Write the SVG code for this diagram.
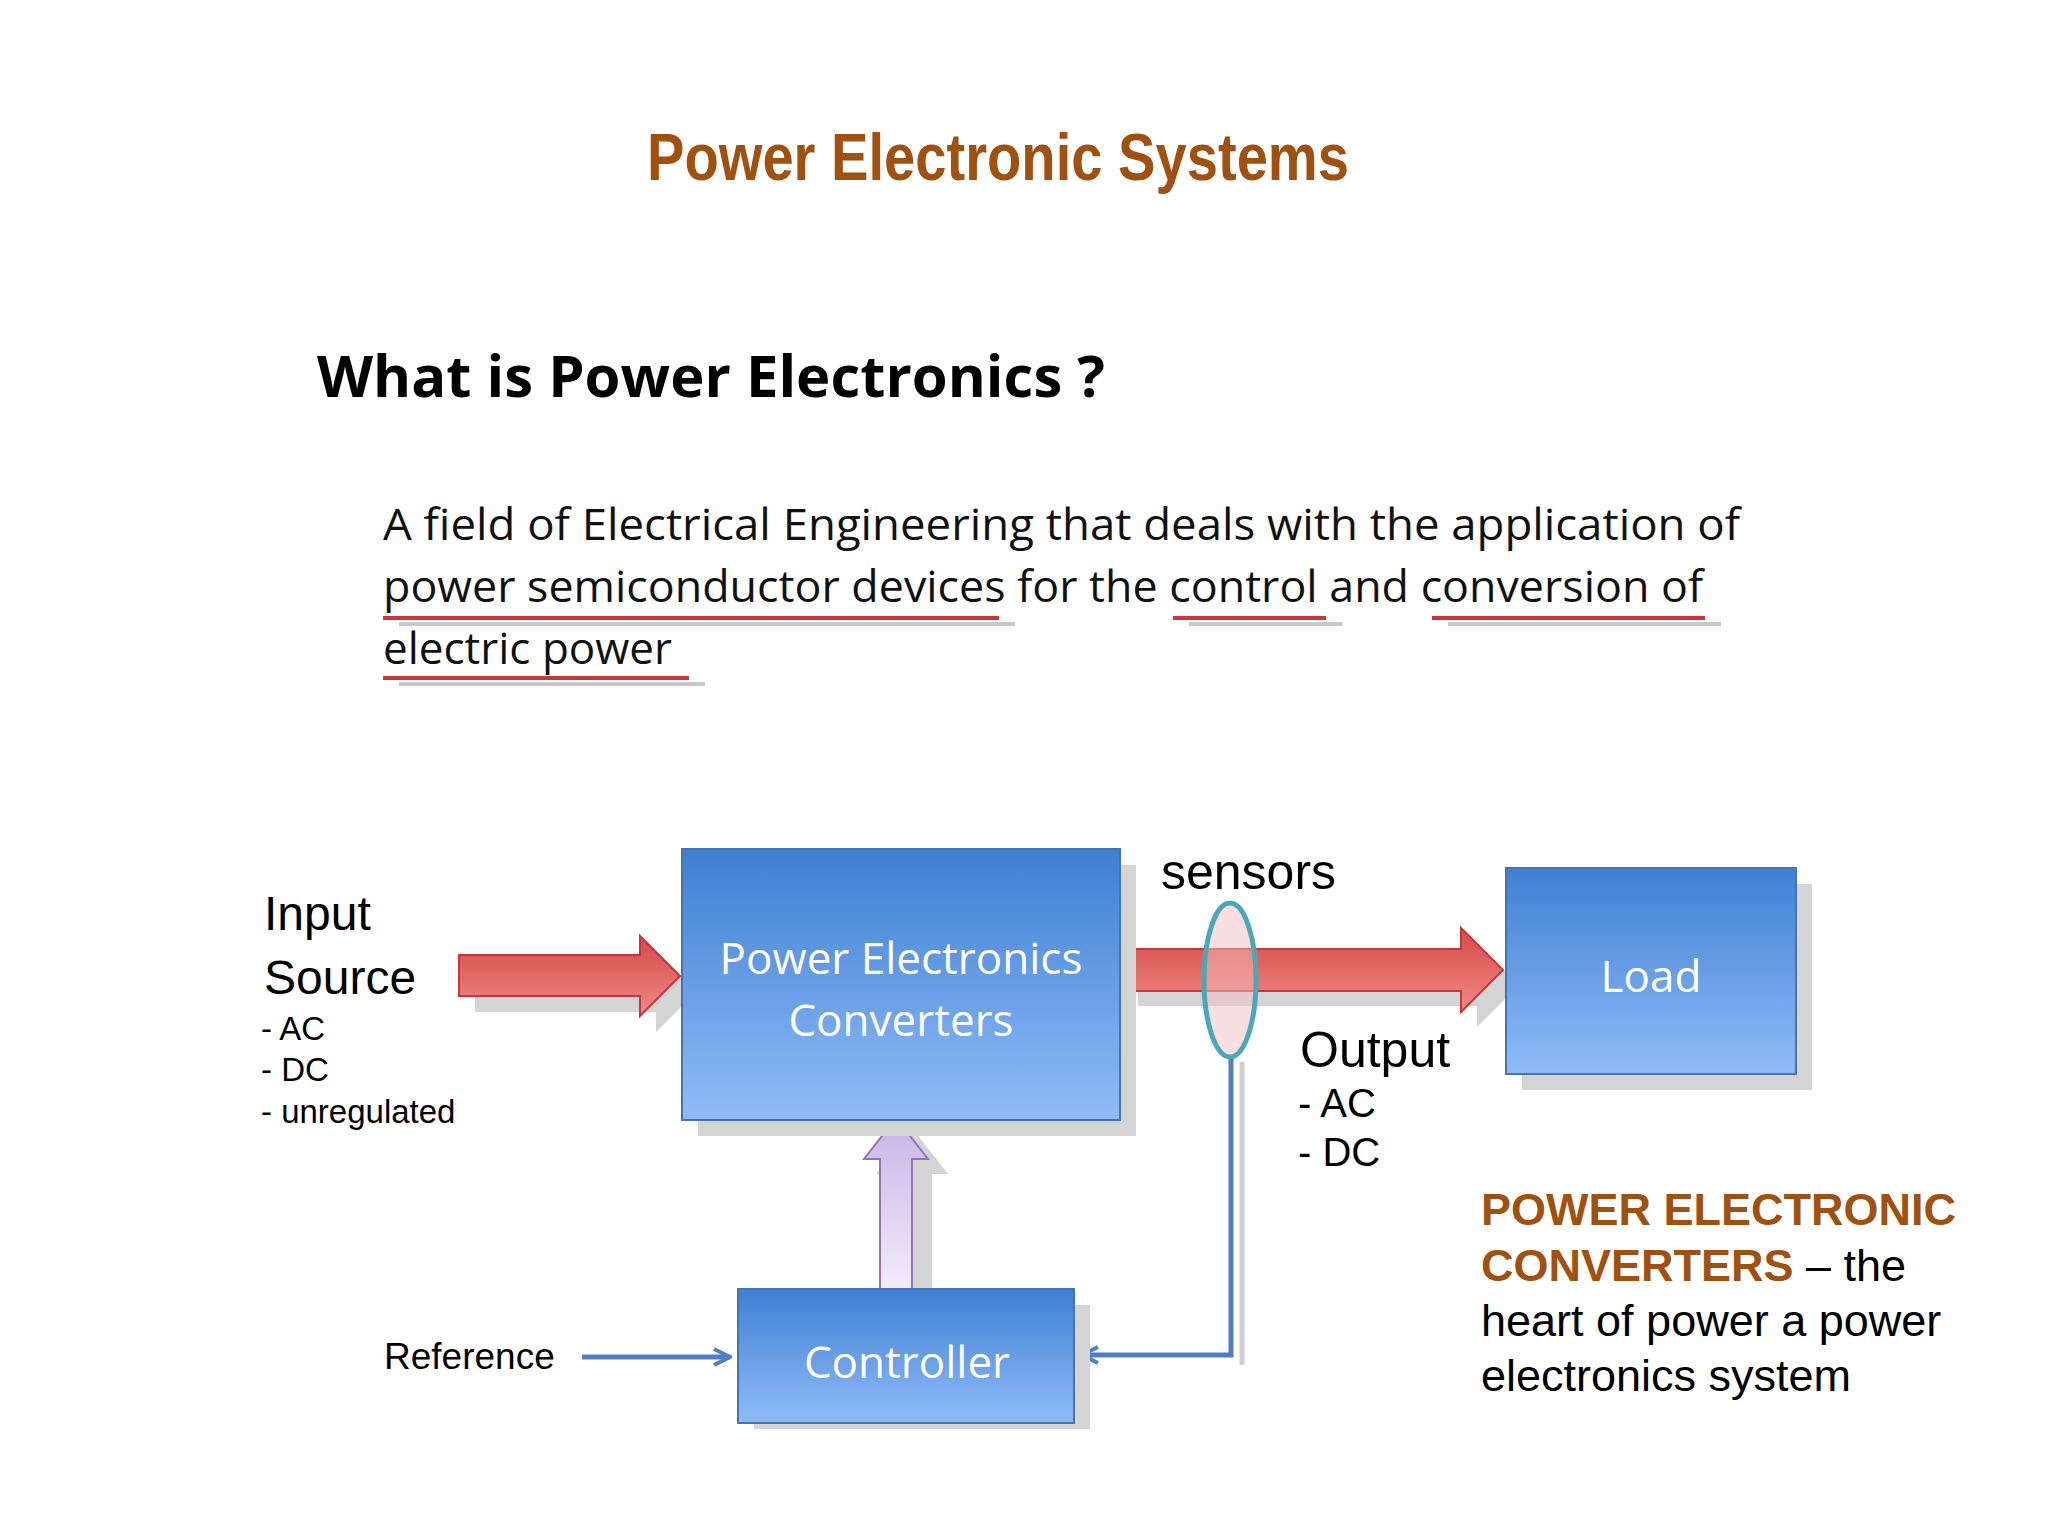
<svg xmlns="http://www.w3.org/2000/svg" width="2048" height="1536" viewBox="0 0 2048 1536">
<defs>
<linearGradient id="blue" x1="0" y1="0" x2="0" y2="1"><stop offset="0" stop-color="#3f80d2"/><stop offset="1" stop-color="#90bbf8"/></linearGradient>
<linearGradient id="red" x1="0" y1="0" x2="0" y2="1"><stop offset="0" stop-color="#d44a4a"/><stop offset="1" stop-color="#f08a84"/></linearGradient>
<linearGradient id="purp" x1="0" y1="0" x2="0" y2="1"><stop offset="0" stop-color="#c9b3e6"/><stop offset="1" stop-color="#f2ecfa"/></linearGradient>
<marker id="open" viewBox="0 0 20 20" refX="18" refY="10" markerWidth="20" markerHeight="20" markerUnits="userSpaceOnUse" orient="auto"><path d="M2,2 L18,10 L2,18" fill="none" stroke="#4f7fc0" stroke-width="4"/></marker>
</defs>
<style>
.box{fill:url(#blue);stroke:#4a72b0;stroke-width:2}
.sh{fill:#d4d4d4}
.wt{font-family:"Open Sans","Noto Sans",sans-serif;fill:#fff;text-anchor:middle;font-size:44px}
.lb{font-family:"Liberation Sans",Arial,sans-serif;fill:#000}
.para{font-family:"Open Sans","Noto Sans",sans-serif;font-size:44px;fill:#111}
.ul{stroke:#c8363c;stroke-width:4}
.uls{stroke:#c8c8c8;stroke-width:4}
.ln{stroke:#4f7fc0;stroke-width:5;fill:none}
</style>
<rect width="2048" height="1536" fill="#fff"/>
<text x="998" y="180" text-anchor="middle" font-family="Liberation Sans,Arial,sans-serif" font-weight="bold" font-size="66" fill="#a0500f" textLength="702" lengthAdjust="spacingAndGlyphs">Power Electronic Systems</text>
<text x="317" y="397" font-family="Open Sans,Noto Sans,sans-serif" font-weight="bold" font-size="58" fill="#000" textLength="788" lengthAdjust="spacingAndGlyphs">What is Power Electronics ?</text>
<text class="para" x="383" y="540" textLength="1357" lengthAdjust="spacingAndGlyphs">A field of Electrical Engineering that deals with the application of</text>
<text class="para" x="383" y="602" textLength="1320" lengthAdjust="spacingAndGlyphs">power semiconductor devices for the control and conversion of</text>
<text class="para" x="383" y="664">electric power</text>
<g id="underlines">
<line class="uls" x1="399" y1="624" x2="1015" y2="624"/><line class="ul" x1="383" y1="618" x2="999" y2="618"/>
<line class="uls" x1="1189" y1="624" x2="1342" y2="624"/><line class="ul" x1="1173" y1="618" x2="1326" y2="618"/>
<line class="uls" x1="1448" y1="624" x2="1721" y2="624"/><line class="ul" x1="1432" y1="618" x2="1705" y2="618"/>
<line class="uls" x1="399" y1="684" x2="705" y2="684"/><line class="ul" x1="383" y1="678" x2="689" y2="678"/>
</g>
<g id="connectors">
<path class="sh" d="M475,970 H656 V951 L696,992 L656,1032 V1012 H475 Z"/>
<path d="M459,955 H640 V936 L680,976 L640,1016 V996 H459 Z" fill="url(#red)" stroke="#c8363c" stroke-width="2"/>
<path class="sh" d="M1138,964 H1477 V943 L1519,985 L1477,1027 V1006 H1138 Z"/>
<path d="M1122,949 H1461 V928 L1503,970 L1461,1012 V991 H1122 Z" fill="url(#red)" stroke="#c8363c" stroke-width="2"/>
<path class="sh" d="M892,1289 V1174 H876 L912,1128 L948,1174 H932 V1289 Z"/>
<path d="M880,1289 V1159 H864 L896,1118 L928,1159 H912 V1289 Z" fill="url(#purp)" stroke="#8e74b8" stroke-width="2"/>
<line x1="1242" y1="1062" x2="1242" y2="1365" stroke="#cfcfcf" stroke-width="5"/>
<path class="ln" d="M1231,1057 V1355 H1082" marker-end="url(#open)"/>
<path class="ln" d="M582,1357 H730" marker-end="url(#open)"/>
<ellipse cx="1230" cy="980" rx="26" ry="77" fill="#f4c0c0" fill-opacity="0.5" stroke="#4aa8b8" stroke-width="5"/>
</g>
<g id="pec">
<rect class="sh" x="698" y="865" width="438" height="271"/>
<rect class="box" x="682" y="849" width="438" height="271"/>
<text class="wt" x="901" y="974">Power Electronics</text>
<text class="wt" x="901" y="1036">Converters</text>
</g>
<g id="load">
<rect class="sh" x="1522" y="884" width="290" height="206"/>
<rect class="box" x="1506" y="868" width="290" height="206"/>
<text class="wt" x="1651" y="992">Load</text>
</g>
<g id="controller">
<rect class="sh" x="754" y="1305" width="336" height="124"/>
<rect class="box" x="738" y="1289" width="336" height="134"/>
<text class="wt" x="907" y="1378">Controller</text>
</g>
<g id="labels">
<text class="lb" x="264" y="930" font-size="48">Input</text>
<text class="lb" x="264" y="994" font-size="48">Source</text>
<text class="lb" x="261" y="1040" font-size="33">- AC</text>
<text class="lb" x="261" y="1081" font-size="33">- DC</text>
<text class="lb" x="261" y="1123" font-size="33">- unregulated</text>
<text class="lb" x="1161" y="889" font-size="50">sensors</text>
<text class="lb" x="1300" y="1067" font-size="50">Output</text>
<text class="lb" x="1298" y="1117" font-size="40">- AC</text>
<text class="lb" x="1298" y="1166" font-size="40">- DC</text>
<text class="lb" x="384" y="1369" font-size="37">Reference</text>
<text class="lb" x="1481" y="1225" font-size="45"><tspan font-weight="bold" fill="#a0500f">POWER ELECTRONIC</tspan></text>
<text class="lb" x="1481" y="1281" font-size="45"><tspan font-weight="bold" fill="#a0500f">CONVERTERS</tspan> – the</text>
<text class="lb" x="1481" y="1336" font-size="45">heart of power a power</text>
<text class="lb" x="1481" y="1391" font-size="45">electronics system</text>
</g>
</svg>
